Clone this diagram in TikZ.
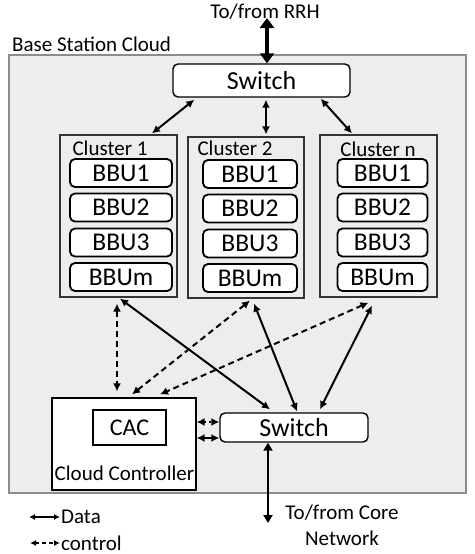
\documentclass[tikz,border=0pt]{standalone}
\usepackage{fontspec}
\setmainfont{Carlito}
\usetikzlibrary{arrows.meta}
\definecolor{bggray}{HTML}{EDEDED}
\definecolor{edgegray}{HTML}{8C8C8C}
\begin{document}
\begin{tikzpicture}[x=1pt,y=-1pt,
  lab/.style={font=\fontsize{21}{23}\selectfont, inner sep=0pt},
  swbox/.style={draw=black, line width=1.4pt, fill=white, rounded corners=5pt, font=\fontsize{26}{28}\selectfont, inner sep=0pt},
  clbox/.style={draw=black!80, line width=1.2pt, fill=bggray, inner sep=0pt},
  bbubox/.style={draw=black, line width=1.8pt, fill=white, rounded corners=5pt, font=\fontsize{25.5}{27}\selectfont, inner sep=0pt, minimum height=28pt},
  plainbox/.style={draw=black, line width=1.2pt, fill=white, inner sep=0pt},
  dat/.style={line width=2pt, {Latex[length=8pt,width=8pt]}-{Latex[length=8pt,width=8pt]}},
  ctl/.style={dat, dash pattern=on 6pt off 4pt},
  dotl/.style={dat, dash pattern=on 2.5pt off 2.5pt}]
\useasboundingbox (0,0) rectangle (474,554);
\fill[white] (0,0) rectangle (474,554);
% outer cloud
\draw[draw=edgegray, line width=1.6pt, fill=bggray] (9,55) rectangle (466,493);
\node[lab, anchor=west] (bsc) at (12,44) {Base Station Cloud};
\node[lab] (rrht) at (265,12) {To/from RRH};
% top switch
\node[swbox, minimum width=177pt, minimum height=33pt] (sw1) at (261.5,80.5) {Switch};
\coordinate (rrh) at (267,18);
\draw[line width=4pt, {Triangle[length=10pt,width=14pt]}-{Triangle[length=10pt,width=14pt]}] (rrh) -- ([xshift=5.5pt]sw1.north);
% clusters
\node[clbox, minimum width=117pt, minimum height=162pt] (c1) at (118.5,216) {};
\node[clbox, minimum width=116pt, minimum height=161pt] (c2) at (246,217.5) {};
\node[clbox, minimum width=117pt, minimum height=162pt] (cn) at (378.5,216) {};
\node[lab] (c1t) at (110,148) {Cluster 1};
\node[lab] (c2t) at (235,148) {Cluster 2};
\node[lab] (cnt) at (378,149) {Cluster n};
% BBUs cluster 1
\node[bbubox, minimum width=102pt] (a1) at (121,173) {BBU1};
\node[bbubox, minimum width=102pt] (a2) at (121,207.5) {BBU2};
\node[bbubox, minimum width=102pt] (a3) at (121,242.5) {BBU3};
\node[bbubox, minimum width=102pt] (am) at (121,277) {BBUm};
% cluster 2
\node[bbubox, minimum width=94pt] (b1) at (250,174) {BBU1};
\node[bbubox, minimum width=94pt] (b2) at (250,208.5) {BBU2};
\node[bbubox, minimum width=94pt] (b3) at (250,243.5) {BBU3};
\node[bbubox, minimum width=94pt] (bm) at (250,278) {BBUm};
% cluster n
\node[bbubox, minimum width=90pt] (n1) at (382.5,173) {BBU1};
\node[bbubox, minimum width=90pt] (n2) at (382.5,207.5) {BBU2};
\node[bbubox, minimum width=90pt] (n3) at (382.5,242.5) {BBU3};
\node[bbubox, minimum width=90pt] (nm) at (382.5,277) {BBUm};
% switch to clusters
\draw[dat] ([xshift=22pt,yshift=-2pt]sw1.south west) -- ([xshift=33.5pt,yshift=1pt]c1.north);
\draw[dat] ([xshift=4.5pt,yshift=-2pt]sw1.south) -- ([xshift=20pt,yshift=2pt]c2.north);
\draw[dat] ([xshift=-30pt,yshift=-1pt]sw1.south east) -- ([xshift=-26.5pt,yshift=1pt]cn.north);
% cloud controller and bottom switch
\node[plainbox, minimum width=144pt, minimum height=92pt] (cc) at (124,444) {};
\node[plainbox, minimum width=73pt, minimum height=35pt, font=\fontsize{24}{26}\selectfont] (cac) at (129.5,427.5) {CAC};
\node[lab] (cct) at (124.5,473) {Cloud Controller};
\node[swbox, minimum width=148pt, minimum height=29pt, font=\fontsize{26}{28}\selectfont] (sw2) at (294,427.5) {Switch};
% lower connections
\draw[dat] ([xshift=1.5pt,yshift=-1pt]c1.south) -- ([xshift=-24pt,yshift=3pt]sw2.north);
\draw[ctl] ([xshift=-1.5pt,yshift=-6pt]c1.south) -- ([xshift=-7pt,yshift=6pt]cc.north);
\draw[ctl] ([xshift=4pt,yshift=-2pt]c2.south) -- ([xshift=8pt,yshift=3pt]cc.north);
\draw[dat] ([xshift=8pt,yshift=-5pt]c2.south) -- ([xshift=3pt,yshift=1pt]sw2.north);
\draw[ctl] ([xshift=-10pt,yshift=-5pt]cn.south) -- ([xshift=36pt,yshift=3pt]cc.north);
\draw[dat] ([xshift=-6.5pt,yshift=-8pt]cn.south) -- ([xshift=26pt,yshift=3pt]sw2.north);
\draw[dotl] ([yshift=22pt]cc.east) -- ([yshift=5.5pt]sw2.west);
\draw[dat] ([yshift=6pt]cc.east) -- ([yshift=-10.5pt]sw2.west);
% core
\coordinate (core) at (268,523);
\draw[line width=2.4pt, {Triangle[length=8pt,width=9pt]}-{Triangle[length=8pt,width=9pt]}] ([xshift=-26pt]sw2.south) -- (core);
\node[lab] (coret) at (342,513) {To/from Core};
\node[lab] (nett) at (342,538) {Network};
% legend
\coordinate (ld1) at (29,517);
\coordinate (ld2) at (60,517);
\coordinate (lc1) at (30,543);
\coordinate (lc2) at (60,543);
\draw[line width=1.2pt, {Latex[length=6pt,width=6pt]}-{Latex[length=6pt,width=6pt]}] (ld1) -- (ld2);
\draw[line width=1.2pt, dash pattern=on 4pt off 3pt, {Latex[length=6pt,width=6pt]}-{Latex[length=6pt,width=6pt]}] (lc1) -- (lc2);
\node[lab, anchor=west] (datat) at (61,517) {Data};
\node[lab, anchor=west] (ctlt) at (61,543) {control};
\end{tikzpicture}
\end{document}
